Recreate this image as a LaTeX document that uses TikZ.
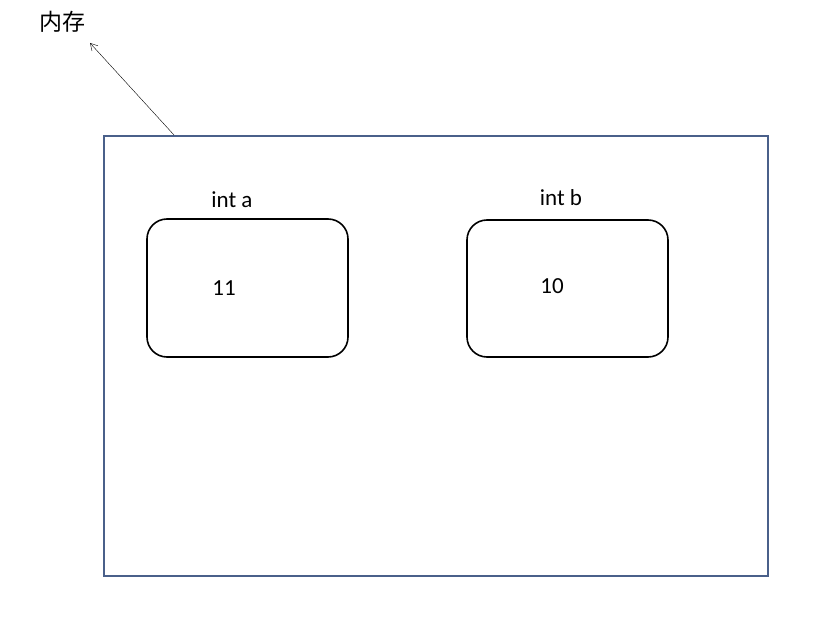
\documentclass[tikz,border=0pt]{standalone}
\usepackage{fontspec}
\usetikzlibrary{arrows.meta}
\setmainfont{Carlito}
\newfontfamily\cjk{Noto Sans CJK SC}
\begin{document}
\begin{tikzpicture}[x=1pt,y=-1pt,
  mem/.style={draw=black,line width=1.6pt,rounded corners=20pt},
  lbl/.style={font=\fontsize{23}{26}\selectfont}]
\useasboundingbox (0,0) rectangle (815,631);
\draw[draw={rgb,255:red,74;green,96;blue,138},line width=1.8pt] (104,136) rectangle (768,576);
\coordinate (corner) at (174,135);
\node[font=\cjk\fontsize{23}{26}\selectfont] (mem) at (62,22) {内存};
\coordinate (tip) at (90,43);
\draw[-{Straight Barb[length=7pt,width=8pt]}] (corner) -- (tip);
\draw[mem] (147,219) rectangle (348,357);
\draw[mem] (467,220) rectangle (668,357);
\node[lbl] (la) at (232,200) {int a};
\node[lbl] (lb) at (561,198) {int b};
\node[lbl] (va) at (224,288) {11};
\node[lbl] (vb) at (552,286) {10};
\end{tikzpicture}
\end{document}
